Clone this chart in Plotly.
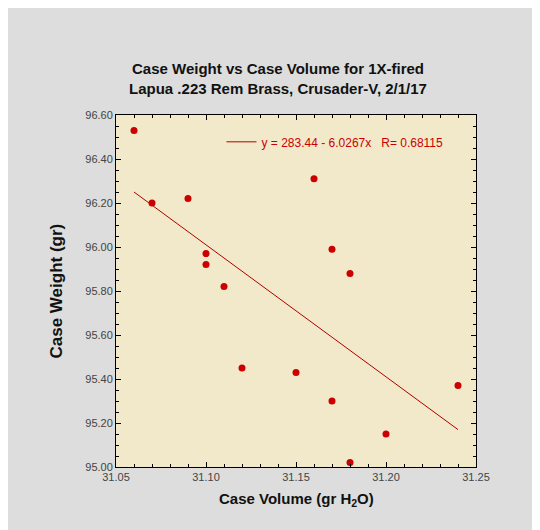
import plotly.graph_objects as go

# measured case volume (gr H2O) and case weight (gr)
case_volume = [31.06, 31.07, 31.09, 31.10, 31.10, 31.11, 31.12, 31.15,
               31.16, 31.17, 31.17, 31.18, 31.18, 31.20, 31.24]
case_weight = [96.53, 96.20, 96.22, 95.97, 95.92, 95.82, 95.45, 95.43,
               96.31, 95.99, 95.30, 95.88, 95.02, 95.15, 95.37]

# linear fit end points as drawn
fit_x = [31.06, 31.24]
fit_y = [96.25, 95.17]
fit_label = "y = 283.44 - 6.0267x   R= 0.68115"

title_lines = ["Case Weight vs Case Volume for 1X-fired",
               "Lapua .223 Rem Brass, Crusader-V, 2/1/17"]

x_ticks = [31.05, 31.10, 31.15, 31.20, 31.25]
y_ticks = [95.00, 95.20, 95.40, 95.60, 95.80, 96.00, 96.20, 96.40, 96.60]

fig = go.Figure()

# regression line (shown in legend)
fig.add_trace(go.Scatter(x=fit_x, y=fit_y, mode="lines",
                         line=dict(color="#b00000", width=1),
                         name=fit_label, showlegend=True))

# data points
fig.add_trace(go.Scatter(x=case_volume, y=case_weight, mode="markers",
                         marker=dict(color="#cc0000", size=7),
                         showlegend=False))

axis_common = dict(
    showgrid=False, zeroline=False,
    showline=True, linecolor="black", linewidth=1, mirror="allticks",
    ticks="inside", ticklen=5, tickcolor="black",
    tickfont=dict(family="Arial", size=11, color="#444444"),
)

fig.update_xaxes(range=[31.05, 31.25], tickvals=x_ticks,
                 ticktext=[f"{v:.2f}" for v in x_ticks],
                 minor=dict(dtick=0.01, ticks="inside", ticklen=3, tickcolor="black"),
                 **axis_common)
fig.update_yaxes(range=[95.00, 96.60], tickvals=y_ticks,
                 ticktext=[f"{v:.2f}" for v in y_ticks],
                 minor=dict(dtick=0.05, ticks="inside", ticklen=3, tickcolor="black"),
                 **axis_common)

fig.update_layout(
    width=540, height=530,
    margin=dict(l=108, r=72, t=107, b=71),
    paper_bgcolor="#dcdddc",
    plot_bgcolor="#f1e9c9",
    title=dict(text="<b>" + "<br>".join(title_lines) + "</b>",
               x=0.5, xanchor="center", y=0.875, yanchor="middle",
               font=dict(family="Arial", size=15, color="#111111")),
    legend=dict(x=0.293, y=0.965, xanchor="left", yanchor="top",
                bgcolor="rgba(0,0,0,0)",
                font=dict(family="Arial", size=12, color="#cc0000")),
    annotations=[
        dict(text="<b>Case Volume (gr H<sub>2</sub>O)</b>", xref="paper", yref="paper",
             x=0.5, y=-0.06, xanchor="center", yanchor="top", showarrow=False,
             font=dict(family="Arial", size=15, color="#111111")),
        dict(text="<b>Case Weight (gr)</b>", xref="paper", yref="paper",
             x=-0.168, y=0.5, xanchor="center", yanchor="middle", showarrow=False,
             textangle=-90,
             font=dict(family="Arial", size=17, color="#111111")),
    ],
)

fig.write_html("out.html")
